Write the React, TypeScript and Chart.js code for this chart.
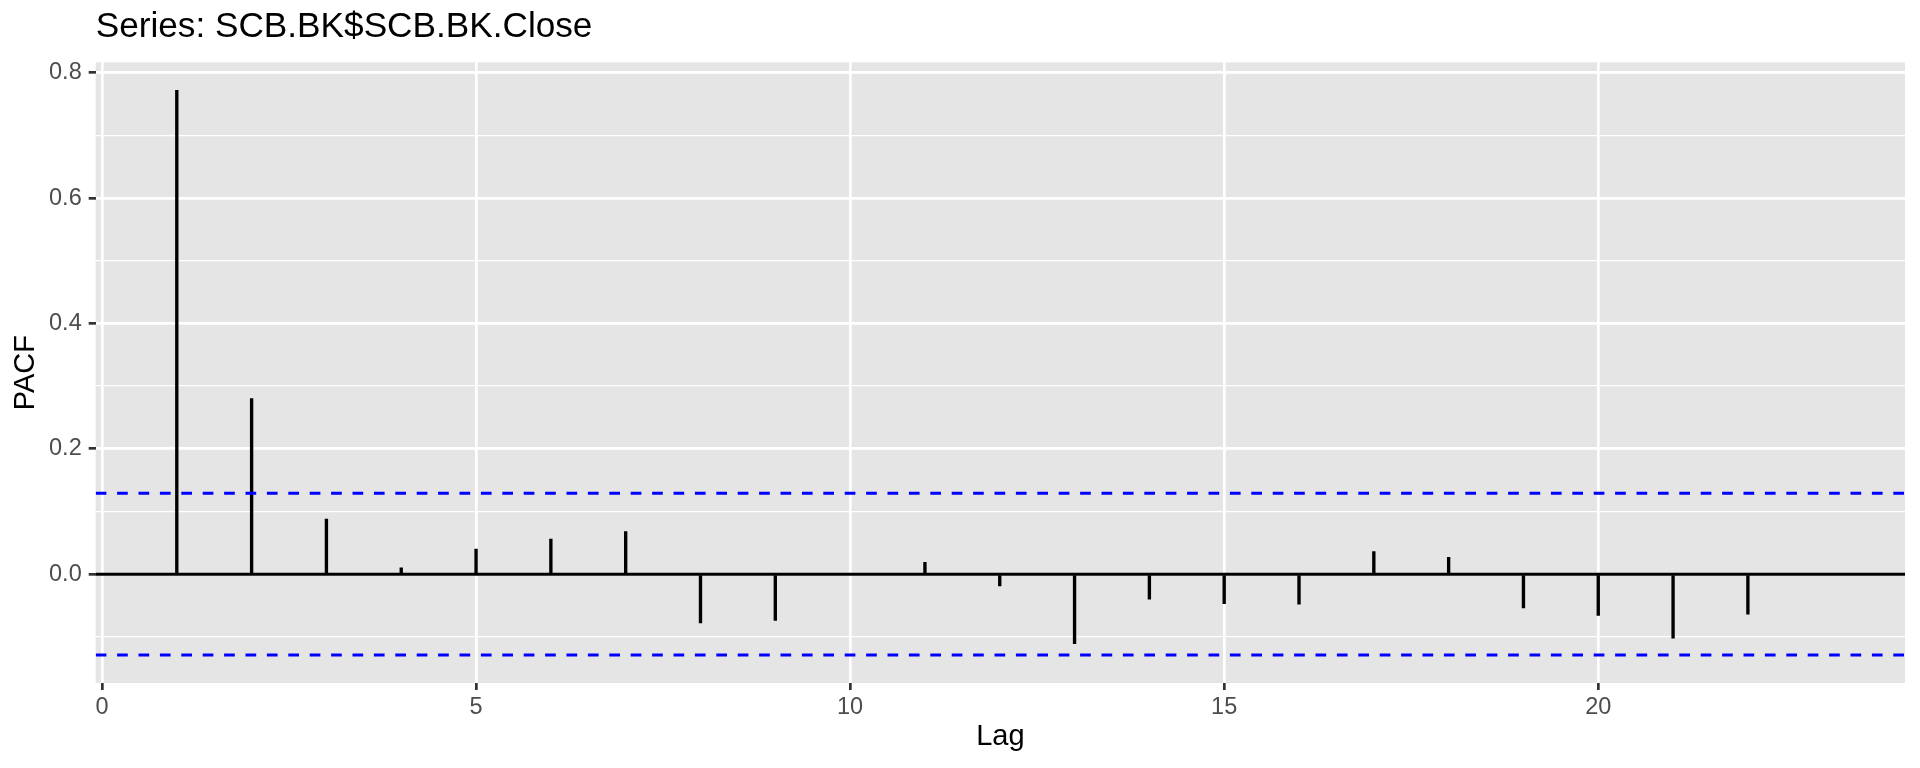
import React, { useEffect, useRef } from "react";
import { Chart, registerables } from "chart.js";

Chart.register(...registerables);

// ---- data ----
const chartTitle = "Series: SCB.BK$SCB.BK.Close";
const xAxisTitle = "Lag";
const yAxisTitle = "PACF";
const lags = [1, 2, 3, 4, 5, 6, 7, 8, 9, 10, 11, 12, 13, 14, 15, 16, 17, 18, 19, 20, 21, 22];
const pacfValues = [
  0.772, 0.28, 0.088, 0.01, 0.04, 0.056, 0.068, -0.078, -0.074, 0.0, 0.019,
  -0.019, -0.111, -0.04, -0.047, -0.048, 0.036, 0.027, -0.054, -0.066, -0.102, -0.064,
];
const ciUpper = 0.129;
const ciLower = -0.129;
const zeroLevel = 0;
const xMin = -0.084;
const xMax = 24.1;
const yMin = -0.1737;
const yMax = 0.8166;
const xStep = 5;
const yStep = 0.1;

const FONT = "'Liberation Sans', Arial, Helvetica, sans-serif";

const panelBg = {
  id: "panelBg",
  beforeDraw(chart: any) {
    const { ctx, chartArea } = chart;
    ctx.save();
    ctx.fillStyle = "#E5E5E5";
    ctx.fillRect(chartArea.left, chartArea.top, chartArea.right - chartArea.left, chartArea.bottom - chartArea.top);
    ctx.restore();
  },
};

const isMajorY = (v: number) => Math.abs(Math.round(v * 10)) % 2 === 0;

export default function App() {
  const ref = useRef<HTMLCanvasElement | null>(null);

  useEffect(() => {
    const canvas = ref.current;
    if (!canvas) return;
    const chart = new Chart(canvas, {
      type: "bar",
      data: {
        datasets: [
          {
            type: "line",
            data: [
              { x: xMin, y: zeroLevel },
              { x: xMax, y: zeroLevel },
            ],
            borderColor: "#000000",
            borderWidth: 3,
            pointRadius: 0,
            order: 3,
          } as any,
          {
            type: "bar",
            data: lags.map((l, i) => ({ x: l, y: pacfValues[i] })),
            backgroundColor: "#000000",
            borderWidth: 0,
            barThickness: 2.7,
            order: 2,
          } as any,
          {
            type: "line",
            data: [
              { x: xMin, y: ciUpper },
              { x: xMax, y: ciUpper },
            ],
            borderColor: "#0000FF",
            borderWidth: 3,
            borderDash: [10.7, 10.7],
            pointRadius: 0,
            order: 1,
          } as any,
          {
            type: "line",
            data: [
              { x: xMin, y: ciLower },
              { x: xMax, y: ciLower },
            ],
            borderColor: "#0000FF",
            borderWidth: 3,
            borderDash: [10.7, 10.7],
            pointRadius: 0,
            order: 1,
          } as any,
        ],
      },
      options: {
        animation: false,
        responsive: false,
        devicePixelRatio: 1,
        events: [],
        layout: { padding: { left: 0, right: 15, top: 0, bottom: 0 } },
        plugins: {
          legend: { display: false },
          tooltip: { enabled: false },
          title: {
            display: true,
            text: chartTitle,
            align: "start",
            fullSize: false,
            color: "#000000",
            font: { family: FONT, size: 35.2, weight: "normal", lineHeight: 1.2 },
            padding: { top: 6.1, bottom: 14.0 },
          },
        },
        scales: {
          x: {
            type: "linear",
            min: xMin,
            max: xMax,
            offset: false,
            afterFit(scale: any) {
              scale.height = 85;
            },
            border: { display: false },
            grid: {
              offset: false,
              color: "#FFFFFF",
              lineWidth: 2.7,
              drawTicks: true,
              tickLength: 7,
              tickWidth: 2.7,
              tickColor: "#333333",
            },
            ticks: {
              stepSize: xStep,
              includeBounds: false,
              autoSkip: false,
              maxRotation: 0,
              padding: 3,
              color: "#4D4D4D",
              font: { family: FONT, size: 23.5 },
              callback: (v: any) => String(Math.round(Number(v))),
            },
            title: {
              display: true,
              text: xAxisTitle,
              color: "#000000",
              font: { family: FONT, size: 29, lineHeight: 1.2 },
              padding: { top: 0, bottom: 13.2 },
            },
          },
          y: {
            type: "linear",
            min: yMin,
            max: yMax,
            afterFit(scale: any) {
              scale.width = 95.7;
            },
            border: { display: false },
            grid: {
              color: "#FFFFFF",
              lineWidth: (ctx: any) => (isMajorY(ctx.tick.value) ? 2.7 : 1.35),
              drawTicks: true,
              tickLength: 7,
              tickWidth: 2.7,
              tickColor: (ctx: any) => (isMajorY(ctx.tick.value) ? "#333333" : "rgba(0,0,0,0)"),
            },
            ticks: {
              stepSize: yStep,
              includeBounds: false,
              autoSkip: false,
              padding: 7,
              color: "#4D4D4D",
              font: { family: FONT, size: 23.5 },
              callback: (v: any) => {
                const n = Number(v);
                if (!isMajorY(n)) return "";
                return Math.abs(n) < 1e-9 ? "0.0" : n.toFixed(1);
              },
            },
            title: {
              display: true,
              text: yAxisTitle,
              color: "#000000",
              font: { family: FONT, size: 29, lineHeight: 1.2 },
              padding: { top: 8.6, bottom: 0 },
            },
          },
        },
      } as any,
      plugins: [panelBg],
    });
    return () => chart.destroy();
  }, []);

  return (
    <div style={{ position: "fixed", left: 0, top: 0, width: 1920, height: 768, background: "#FFFFFF" }}>
      <canvas ref={ref} width={1920} height={768} style={{ width: 1920, height: 768, display: "block" }} />
    </div>
  );
}
